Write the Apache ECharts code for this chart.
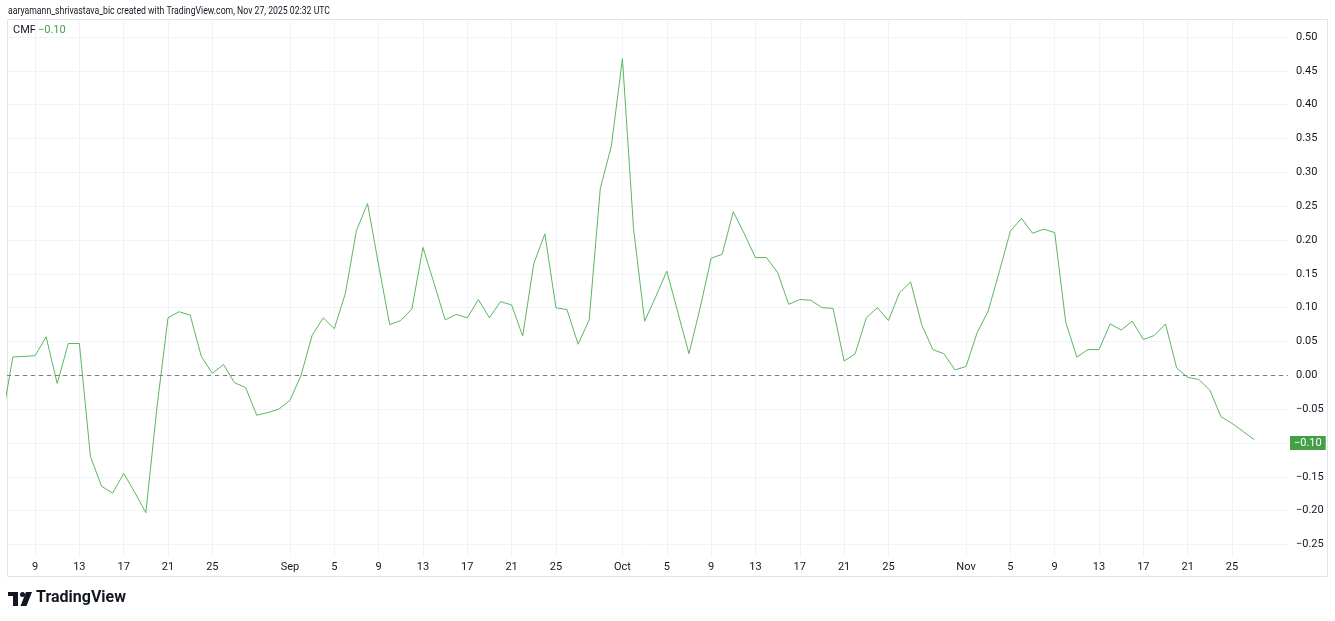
<!DOCTYPE html>
<html>
<head>
<meta charset="utf-8">
<title>CMF</title>
<script src="https://cdn.jsdelivr.net/npm/echarts@6/dist/echarts.min.js"></script>
<style>
html, body { margin: 0; padding: 0; background: #fff; }
#main { width: 1335px; height: 621px; }
</style>
</head>
<body>
<div id="main"></div>
<script>
// day numbers on the x axis: Aug n -> n, Sep n -> 31 + n, Oct n -> 61 + n, Nov n -> 92 + n
var monthStart = { aug: 0, sep: 31, oct: 61, nov: 92 }
var augFirstDay = 6
// CMF daily values
var augCmf = [-0.067, 0.027, 0.028, 0.029, 0.057, -0.012, 0.047, 0.047, -0.120, -0.164,
  -0.174, -0.145, -0.173, -0.203, -0.047, 0.085, 0.094, 0.089, 0.028, 0.003,
  0.016, -0.011, -0.018, -0.059, -0.055, -0.050]
var sepCmf = [-0.037, 0.000, 0.059, 0.085, 0.069, 0.121, 0.214, 0.254, 0.163, 0.075,
  0.081, 0.098, 0.189, 0.136, 0.082, 0.090, 0.085, 0.112, 0.085, 0.109,
  0.104, 0.058, 0.165, 0.209, 0.100, 0.097, 0.046, 0.082, 0.276, 0.339]
var octCmf = [0.468, 0.217, 0.080, 0.116, 0.154, 0.093, 0.032, 0.099, 0.173, 0.179,
  0.242, 0.209, 0.174, 0.174, 0.152, 0.105, 0.112, 0.111, 0.100, 0.099,
  0.021, 0.032, 0.085, 0.100, 0.081, 0.122, 0.138, 0.075, 0.038, 0.032, 0.008]
var novCmf = [0.013, 0.063, 0.095, 0.153, 0.213, 0.232, 0.210, 0.216, 0.211, 0.078,
  0.027, 0.038, 0.038, 0.076, 0.067, 0.080, 0.053, 0.059, 0.076, 0.011,
  -0.003, -0.006, -0.022, -0.061, -0.071, -0.083, -0.095]

var tickDays = [9, 13, 17, 21, 25, 32, 36, 40, 44, 48, 52, 56, 62, 66, 70, 74, 78, 82, 86, 93, 97, 101, 105, 109, 113, 117]
var tickLabels = ['9', '13', '17', '21', '25', 'Sep', '5', '9', '13', '17', '21', '25', 'Oct', '5', '9', '13', '17', '21', '25', 'Nov', '5', '9', '13', '17', '21', '25']
var yTicks = [-0.25, -0.2, -0.15, -0.1, -0.05, 0, 0.05, 0.1, 0.15, 0.2, 0.25, 0.3, 0.35, 0.4, 0.45, 0.5]

var green = '#43a047'
var lineGreen = '#5cb660'
var textColor = '#131722'
var font = "Roboto, 'Liberation Sans', sans-serif"

var points = []
augCmf.forEach(function (v, i) { points.push([monthStart.aug + augFirstDay + i, v]) })
sepCmf.forEach(function (v, i) { points.push([monthStart.sep + 1 + i, v]) })
octCmf.forEach(function (v, i) { points.push([monthStart.oct + 1 + i, v]) })
novCmf.forEach(function (v, i) { points.push([monthStart.nov + 1 + i, v]) })
var last = points[points.length - 1][1]

function fmt (v) {
  var s = v.toFixed(2)
  return s.replace('-', '\u2212')
}

var myChart = echarts.init(document.getElementById('main'))
myChart.setOption({
  animation: false,
  textStyle: { fontFamily: font },
  grid: { left: 7, right: 47, top: 19, bottom: 65 },
  xAxis: {
    type: 'value',
    min: 6.47,
    max: 122.05,
    axisLine: { show: false },
    axisTick: { show: false, customValues: tickDays },
    axisLabel: {
      customValues: tickDays,
      color: textColor,
      fontSize: 11,
      margin: 6,
      formatter: function (v) { return tickLabels[tickDays.indexOf(Math.round(v))] }
    },
    splitLine: { show: true, lineStyle: { color: '#f0f3fa', width: 1 } }
  },
  yAxis: {
    type: 'value',
    position: 'right',
    min: -0.267,
    max: 0.5266,
    axisLine: { show: false },
    axisTick: { show: false, customValues: yTicks },
    axisLabel: {
      customValues: yTicks,
      color: textColor,
      fontSize: 11,
      margin: 8,
      formatter: function (v) { return fmt(v) }
    },
    splitLine: { show: true, lineStyle: { color: '#f0f3fa', width: 1 } }
  },
  graphic: [
    {
      type: 'rect',
      shape: { x: 7.5, y: 19.5, width: 1320, height: 557 },
      style: { fill: 'none', stroke: '#e0e3eb', lineWidth: 1 },
      silent: true
    },
    {
      type: 'text', x: 8, y: 11, scaleX: 0.79,
      style: { text: 'aaryamann_shrivastava_bic created with TradingView.com, Nov 27, 2025 02:32 UTC', fill: textColor, font: '11px ' + font, verticalAlign: 'middle' }
    },
    {
      type: 'text', left: 13, top: 25,
      style: { text: 'CMF', fill: textColor, font: '11px ' + font }
    },
    {
      type: 'text', left: 38, top: 25,
      style: { text: fmt(last), fill: green, font: '11px ' + font }
    },
    // TradingView logo
    { type: 'rect', shape: { x: 8, y: 592, width: 10, height: 4 }, style: { fill: '#131722' } },
    { type: 'rect', shape: { x: 13, y: 592, width: 5, height: 14 }, style: { fill: '#131722' } },
    { type: 'circle', shape: { cx: 22.5, cy: 594.5, r: 2.5 }, style: { fill: '#131722' } },
    { type: 'polygon', shape: { points: [[26, 592], [32, 592], [26.5, 606], [20.5, 606]] }, style: { fill: '#131722' } },
    {
      type: 'text', left: 36, top: 590,
      style: { text: 'TradingView', fill: '#131722', font: 'bold 16px ' + font }
    }
  ],
  series: [
    {
      name: 'CMF',
      type: 'line',
      data: points,
      showSymbol: false,
      clip: true,
      lineStyle: { color: lineGreen, width: 1 },
      itemStyle: { color: lineGreen },
      markLine: {
        silent: true,
        symbol: ['none', 'none'],
        data: [
          {
            yAxis: 0,
            lineStyle: { color: '#787b86', type: [4, 4], width: 1 },
            label: { show: false }
          },
          {
            yAxis: last,
            lineStyle: { color: 'rgba(0,0,0,0)', width: 1 },
            label: {
              show: true,
              position: 'end',
              distance: 2,
              formatter: fmt(last),
              color: '#fff',
              backgroundColor: green,
              padding: [2, 4, 1, 4],
              fontSize: 11
            }
          }
        ]
      }
    }
  ]
})
</script>
</body>
</html>
